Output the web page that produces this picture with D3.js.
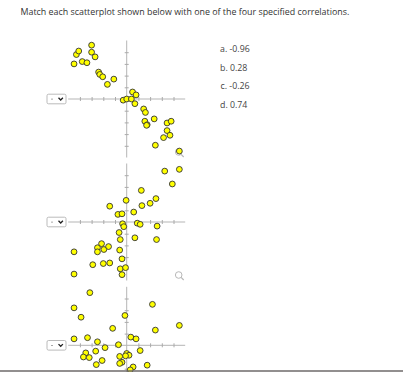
<!DOCTYPE html>
<html>
<head>
<meta charset="utf-8">
<script src="https://cdn.jsdelivr.net/npm/d3@7"></script>
<style>
  body { margin: 0; background: #fff; }
  svg { display: block; font-family: "Open Sans", sans-serif; }
  .title { font-size: 8.9px; fill: #333; }
  .choice { font-size: 8.8px; fill: #444; }
  .axis line { stroke: #aaa; }
  .axis path { display: none; }
  .dot { fill: #ffff00; stroke: #333; stroke-width: 0.9; }
</style>
</head>
<body>
<svg width="403" height="372"></svg>
<script>
// question text
var title = "Match each scatterplot shown below with one of the four specified correlations.";
var choices = ["a. -0.96", "b. 0.28", "c. -0.26", "d. 0.74"];
var ticks = [-4, -3, -2, -1, 1, 2, 3, 4];

// points (units of the grid)
var plotA = [
    [-4.5, 3.0], [-4.3, 3.8], [-4.1, 4.1], [-3.0, 4.6], [-3.0, 4.0], [-2.7, 3.6],
    [-3.8, 3.2], [-3.4, 3.1], [-2.4, 2.3], [-2.3, 2.1], [-2.05, 1.9], [-1.65, 1.25],
    [-1.1, 1.7], [-0.3, -0.1], [0.0, 0.0], [0.4, 0.0], [0.5, 0.6], [0.8, 0.35],
    [0.7, -0.4], [1.45, -0.85], [1.6, -1.15], [1.55, -1.9], [1.75, -2.2], [2.35, -1.7],
    [3.45, -2.05], [3.8, -1.9], [3.45, -2.7], [3.7, -3.1], [3.15, -3.3], [2.45, -3.95],
    [4.5, -4.45], [1.7, -2.25]
];
var plotB = [
    [3.25, 4.35], [4.5, 4.5], [3.9, 3.25], [1.25, 2.7], [2.5, 2.0], [2.0, 1.6],
    [1.3, 1.4], [-0.05, 1.85], [-1.45, 1.35], [0.6, 0.85], [-0.75, 0.65], [-0.4, 0.7],
    [-0.35, -0.15], [-0.25, -0.4], [0.9, -0.1], [1.15, -0.2], [2.6, -0.35], [-0.65, -0.9],
    [-0.55, -1.5], [0.7, -1.35], [2.55, -1.5], [-2.15, -1.85], [-2.5, -2.2], [-1.95, -2.35],
    [-1.55, -2.1], [-2.5, -2.55], [-4.5, -2.55], [-0.6, -2.4], [-0.4, -3.15], [-2.9, -3.65],
    [-2.0, -3.55], [-1.45, -3.5], [-0.55, -4.0], [-0.1, -3.9], [-0.4, -4.5], [-4.5, -4.45]
];
var plotC = [
    [-3.15, 4.5], [-4.5, 3.2], [-3.9, 2.4], [2.2, 3.5], [-0.15, 2.55], [4.5, 1.7],
    [2.45, 1.3], [-1.2, 1.45], [-4.5, 0.55], [-3.35, 0.65], [-2.5, 0.3], [0.35, 0.7],
    [0.8, 0.55], [-0.7, 0.05], [-1.85, -0.2], [-2.65, -0.5], [-3.5, -0.65], [-3.7, -1.0],
    [-3.2, -1.05], [-2.1, -1.3], [-2.6, -1.65], [1.15, -0.45], [0.0, -0.7], [0.2, -0.85],
    [-0.1, -0.9], [-0.6, -0.95], [-0.4, -1.45], [-0.6, -1.55], [0.55, -1.85], [1.75, -1.7],
    [0.3, -2.1]
];
var plots = [plotA, plotB, plotC];

var svg = d3.select("svg");
var cx = 126.7, half = 58.5;
var centersY = [99, 222, 345.3];

svg.append("text").attr("class", "title")
    .attr("x", 20.5).attr("y", 15)
    .text(title);

svg.selectAll(".choice").data(choices).enter().append("text")
    .attr("class", "choice")
    .attr("x", (d, i) => i == 2 ? 220.5 : 220)
    .attr("y", (d, i) => 52 + i * 18.5)
    .text(d => d);

plots.forEach(function (pts, k) {
    var cy = centersY[k];
    var x = d3.scaleLinear().domain([-5, 5]).range([cx - half, cx + half]);
    var y = d3.scaleLinear().domain([-5, 5]).range([cy + half, cy - half]);
    var g = svg.append("g");

    // axis lines
    g.append("line").attr("x1", x(-5)).attr("x2", x(5)).attr("y1", y(0)).attr("y2", y(0))
        .attr("stroke", "#b5b5b5");
    g.append("line").attr("x1", x(0)).attr("x2", x(0)).attr("y1", y(-5)).attr("y2", y(5))
        .attr("stroke", "#b5b5b5");

    // tick marks crossing the axes
    g.append("g").attr("class", "axis")
        .attr("transform", `translate(0,${y(0) - 2})`)
        .call(d3.axisBottom(x).tickValues(ticks).tickSize(4).tickFormat(""));
    g.append("g").attr("class", "axis")
        .attr("transform", `translate(${x(0) + 2},0)`)
        .call(d3.axisLeft(y).tickValues(ticks).tickSize(4).tickFormat(""));

    // magnifier icon
    var mx = x(0) + 52, my = y(0) + 53;
    g.append("circle").attr("cx", mx).attr("cy", my).attr("r", 3.3)
        .attr("fill", "none").attr("stroke", "#b8b8b8").attr("stroke-width", 1);
    g.append("line").attr("x1", mx + 2.4).attr("y1", my + 2.4).attr("x2", mx + 5).attr("y2", my + 5)
        .attr("stroke", "#b8b8b8").attr("stroke-width", 1.2);

    // dropdown
    var dd = g.append("g").attr("transform", `translate(47,${y(0) - 4.8})`);
    dd.append("rect").attr("width", 19).attr("height", 9.6).attr("rx", 1.5)
        .attr("fill", "#fff").attr("stroke", "#aaa").attr("stroke-width", 0.8);
    dd.append("rect").attr("x", 4.3).attr("y", 4.5).attr("width", 1.4).attr("height", 0.8).attr("fill", "#666");
    dd.append("path").attr("d", "M11.5,3.6 L13.7,5.8 L15.9,3.6")
        .attr("fill", "none").attr("stroke", "#222").attr("stroke-width", 1.3);

    g.selectAll(".dot").data(pts).enter().append("circle")
        .attr("class", "dot")
        .attr("cx", d => x(d[0]))
        .attr("cy", d => y(d[1]))
        .attr("r", 2.9);
});

// bottom rule
svg.append("line").attr("x1", 0).attr("x2", 403).attr("y1", 371).attr("y2", 371)
    .attr("stroke", "#6e6a6a").attr("stroke-width", 1.5);
</script>
</body>
</html>
